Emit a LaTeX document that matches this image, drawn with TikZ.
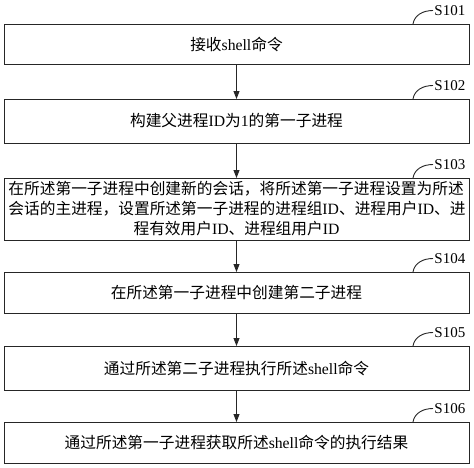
\documentclass[tikz,border=0pt]{standalone}
\usepackage{fontspec}
\setmainfont{Liberation Serif}
\newfontfamily\cjk{Noto Sans CJK SC}
\usepackage{tikz}
\usetikzlibrary{positioning,arrows.meta,calc}
\XeTeXlinebreaklocale "zh"
\XeTeXlinebreakskip=0pt
\newcommand{\ltn}[1]{{\rmfamily #1}}
\newcommand{\fullline}[1]{\makebox[\linewidth][s]{\XeTeXlinebreakskip=0pt plus 1pt\relax #1}}

\begin{document}
\begin{tikzpicture}[
    node distance=35pt,
    stepbox/.style={
        rectangle, draw=black!85, line width=0.9pt, fill=white,
        text width=456pt, inner xsep=4.5pt, inner ysep=0pt, outer sep=0pt,
        align=center, minimum height=#1,
        font=\cjk\fontsize{15.7}{20}\selectfont
    },
    stepbox/.default=40pt,
    flow/.style={draw=black!85, line width=0.9pt, -{Triangle[length=8pt, width=6pt]}},
    tagline/.style={draw=black!85, line width=0.9pt},
    taglabel/.style={font=\fontsize{15}{18}\selectfont, inner sep=1pt, anchor=west}
]
    \node[stepbox=40pt] (recv) {接收\ltn{shell}命令};
    \node[stepbox=44pt, below=35pt of recv] (fork) {构建父进程\ltn{ID}为\ltn{1}的第一子进程};
    \node[stepbox=62pt, below=35pt of fork] (session) {\fullline{在所述第一子进程中创建新的会话，将所述第一子进程设置为所述}\\
        \fullline{会话的主进程，设置所述第一子进程的进程组\ltn{ID}、进程用户\ltn{ID}、进}\\
        程有效用户\ltn{ID}、进程组用户\ltn{ID}};
    \node[stepbox=41pt, below=32pt of session] (child) {在所述第一子进程中创建第二子进程};
    \node[stepbox=44pt, below=33pt of child] (exec) {通过所述第二子进程执行所述\ltn{shell}命令};
    \node[stepbox=41pt, below=32pt of exec] (result) {通过所述第一子进程获取所述\ltn{shell}命令的执行结果};

    \draw[flow] (recv) -- (fork);
    \draw[flow] (fork) -- (session);
    \draw[flow] (session) -- (child);
    \draw[flow] (child) -- (exec);
    \draw[flow] (exec) -- (result);

    % step tags
    \foreach \n/\s in {recv/S101, fork/S102, session/S103, child/S104, exec/S105, result/S106}{
        \coordinate (\n-tag) at ([xshift=-36pt, yshift=13.5pt]\n.north east);
        \draw[tagline] ([xshift=-56pt]\n.north east) .. controls +(1.5pt,9pt) and +(-10pt,0pt) .. (\n-tag) node[taglabel] {\s};
    }

    \useasboundingbox ($(recv.north west)+(-4pt,24pt)$) rectangle ($(result.south east)+(5pt,-4pt)$);
\end{tikzpicture}
\end{document}
